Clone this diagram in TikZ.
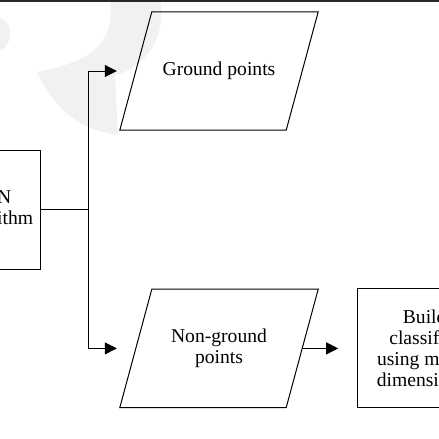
\documentclass[tikz,border=0pt]{standalone}
\usepackage{fontspec}
\setmainfont{Liberation Serif}
\usetikzlibrary{positioning, arrows.meta}
\definecolor{markgray}{RGB}{241,241,241}
\definecolor{rulegray}{RGB}{40,40,40}
\tikzset{
  flowbox/.style={draw, rectangle, line width=1pt, align=center},
  datashape/.style={rectangle, minimum width=166pt, minimum height=118pt, align=center},
  outline/.style={line width=1pt, line join=miter},
  flow/.style={-{Triangle[length=12pt,width=12pt]}, line width=1pt}
}
\begin{document}
\begin{tikzpicture}[x=1pt, y=-1pt, font=\fontsize{19.6}{21}\selectfont]
  \useasboundingbox (0,0) rectangle (439,439);
  \clip (0,0) rectangle (439,439);

  % faint watermark
  \fill[markgray] (110,0) -- (160,0) .. controls (168,50) and (132,72) .. (115,75)
    -- (118,135) .. controls (80,130) and (55,110) .. (37,72)
    .. controls (70,65) and (118,55) .. (110,0) -- cycle;
  \fill[markgray] (0,18) .. controls (14,22) and (14,45) .. (0,50) -- cycle;

  % top rule
  \draw[rulegray, line width=2.5pt] (0,0.8) -- (439,0.8);

  % filtering step
  \node[flowbox, minimum width=90pt, minimum height=119pt] (algo) at (-5,209.5) {TIN\\algorithm};

  % results of the filter
  \node[datashape] (ground) at (219,71) {Ground points};
  \node[datashape, below=159pt of ground] (nonground) {Non-ground\\points};
  \foreach \n in {ground,nonground}
    \draw[outline] ([xshift=-16pt]\n.south west) -- ([xshift=-16pt]\n.south east)
      -- ([xshift=16pt]\n.north east) -- ([xshift=16pt]\n.north west) -- cycle;

  % next step
  \node[flowbox, minimum width=134pt, minimum height=119pt, right=55pt of nonground] (build)
    {Build\\classifier\\using multi-\\dimensional};

  % connectors
  \coordinate (split) at (88,209.5);
  \draw[line width=1pt] (algo.east) -- (split);
  \draw[flow, shorten >=19pt] (split) |- (ground.west);
  \draw[flow, shorten >=19pt] (split) |- (nonground.west);
  \draw[flow, shorten >=19pt] (nonground.east) -- (build.west);
\end{tikzpicture}
\end{document}
